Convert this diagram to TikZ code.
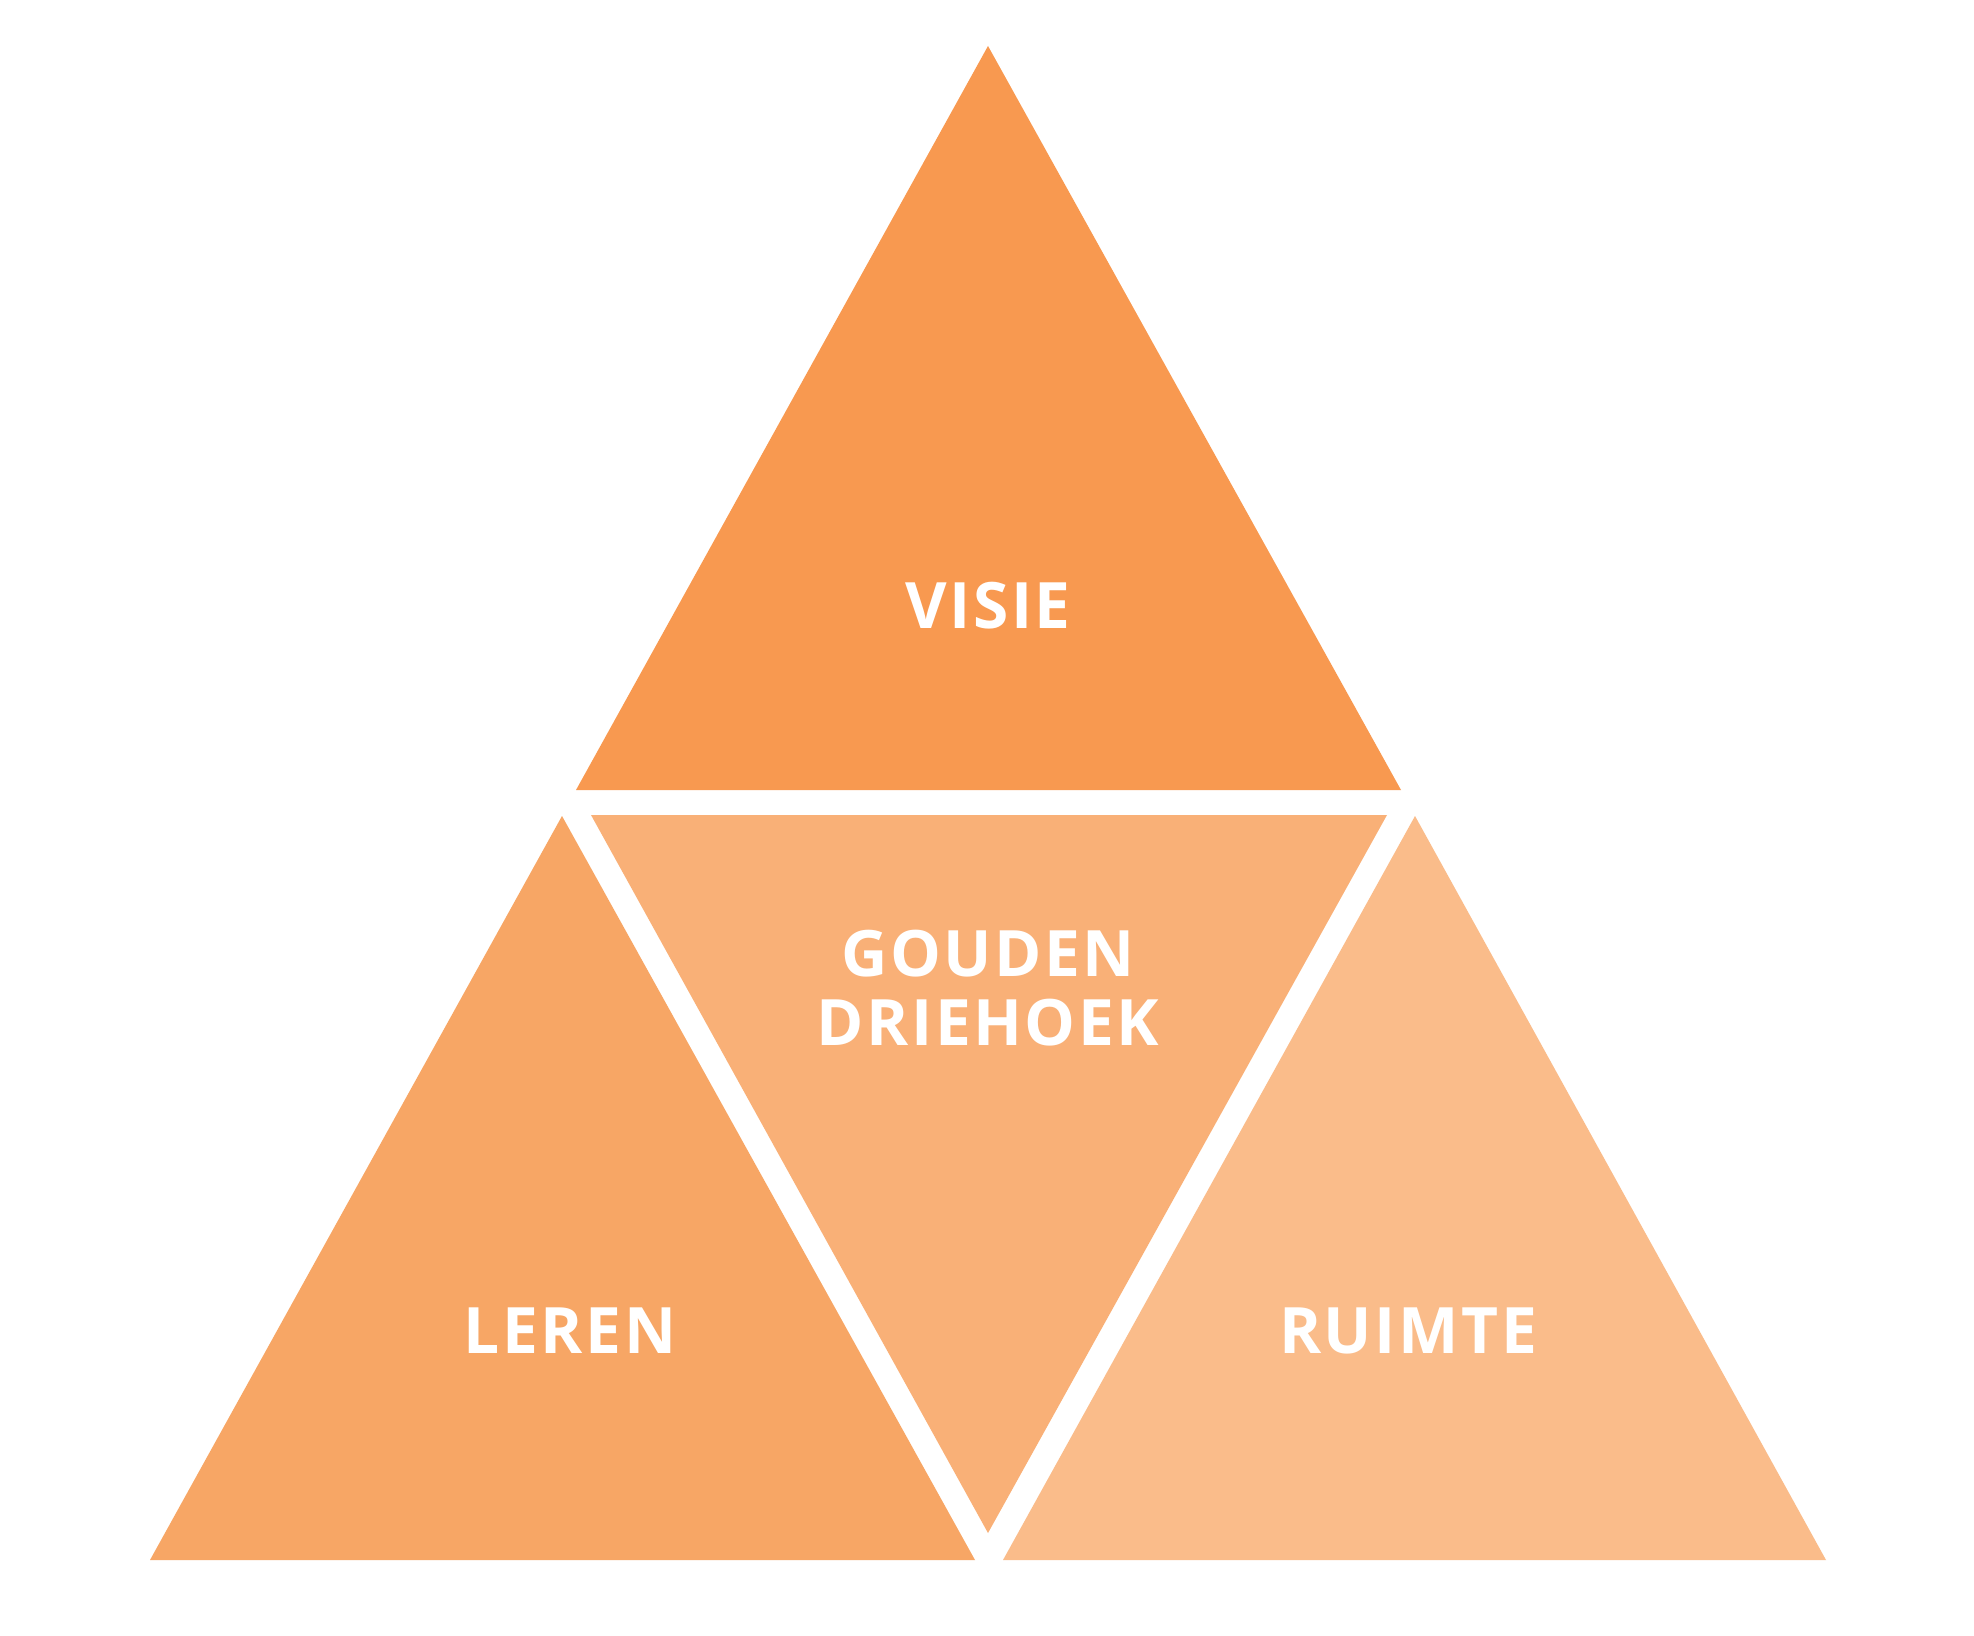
\documentclass[tikz,border=0pt]{standalone}
\usepackage{fontspec}
\setmainfont{Open Sans}[LetterSpace=4]
\definecolor{visiecol}{RGB}{248,153,80}
\definecolor{lerencol}{RGB}{247,166,101}
\definecolor{goudcol}{RGB}{249,176,119}
\definecolor{ruimtecol}{RGB}{250,188,138}
\begin{document}
\begin{tikzpicture}[
  x=0.5pt, y=-0.5pt,
  every node/.style={text=white, align=center, font=\bfseries\fontsize{32}{34.6}\selectfont}
]
\fill[white] (0,0) rectangle (1974,1636);
\useasboundingbox (0,0) rectangle (1974,1636);
% the four triangles
\fill[visiecol] (988,46) -- (576,790) -- (1401,790) -- cycle;
\fill[goudcol] (591,815) -- (1387,815) -- (988,1533) -- cycle;
\fill[lerencol] (562,816) -- (150,1560) -- (975,1560) -- cycle;
\fill[ruimtecol] (1415,816) -- (1003,1560) -- (1826,1560) -- cycle;
% labels
\node (visie) at (988,606) {VISIE};
\node (gouden) at (988,988) {GOUDEN\\DRIEHOEK};
\node (leren) at (570,1331) {LEREN};
\node (ruimte) at (1408,1331) {RUIMTE};
\end{tikzpicture}
\end{document}
